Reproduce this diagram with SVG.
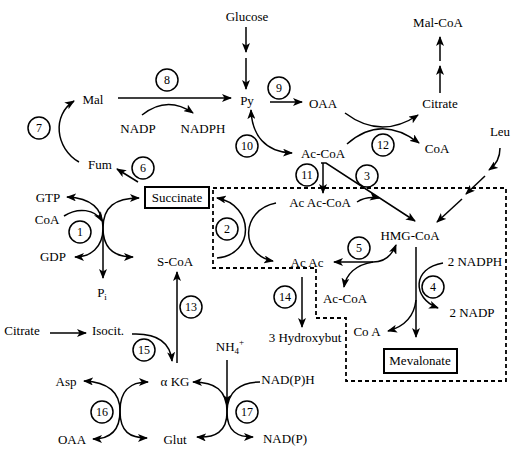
<svg xmlns="http://www.w3.org/2000/svg" width="520" height="453" viewBox="0 0 520 453" font-family="'Liberation Serif', 'DejaVu Serif', serif">
<style>
text{font-family:'Liberation Serif','DejaVu Serif',serif;font-size:13px;fill:#000;text-anchor:middle}
.n text{font-size:12px}
.n circle{fill:#fff;stroke:#000;stroke-width:1.5}
.c path{fill:none;stroke:#000;stroke-width:1.5}
.a{marker-end:url(#ah)}
.b{marker-start:url(#ah);marker-end:url(#ah)}
.box{fill:#fff;stroke:#000;stroke-width:2}
.dash{fill:none;stroke:#000;stroke-width:1.8;stroke-dasharray:4 3}
</style>
<defs>
<marker id="ah" viewBox="0 0 10 8" refX="9" refY="4" markerWidth="10" markerHeight="8" markerUnits="userSpaceOnUse" orient="auto-start-reverse"><path d="M0,0 L10,4 L0,8 L2.5,4 z" fill="#000"/></marker>
</defs>
<rect width="520" height="453" fill="#fff"/>
<path class="dash" d="M213,188 H506 V381 H346 V318 H316 V268 H213 Z"/>
<g class="c" id="connectors">
<path class="a" d="M246,27 L246,52"/>
<path class="a" d="M246,58 L246,89"/>
<path class="a" d="M118,98 L231,98"/>
<path class="a" d="M142,115 Q167,95 193,113"/>
<path class="a" d="M79,162 C55,148 52,115 74,101"/>
<path class="a" d="M138,182 L117,169"/>
<path class="a" d="M270,102 L302,102"/>
<path class="a" d="M440,93 L440,66"/>
<path class="a" d="M440,61 L440,37"/>
<path class="a" d="M345,113 Q381,140 418,115"/>
<path class="a" d="M347,144 Q381,114 419,143"/>
<path class="b" d="M251,110 C252,135 265,152 292,153"/>
<path class="a" d="M323,163 L323,193"/>
<path class="a" d="M321,163 H326 L415,221"/>
<path class="a" d="M357,202 Q366,196 379,198"/>
<path class="a" d="M500,148 Q500,162 489,170"/>
<path class="a" d="M485,176 L466,194"/>
<path class="a" d="M462,199 L437,222"/>
<path class="a" d="M276,203 C240,210 240,255 273,261"/>
<path class="a" d="M217,258 C255,255 255,205 217,198"/>
<path class="a" d="M373,262 L334,262"/>
<path class="a" d="M373,262 C385,262 392,255 396,245"/>
<path class="a" d="M373,262 C355,265 346,275 344,287"/>
<path class="a" d="M302,277 L302,327"/>
<path class="a" d="M416,247 L416,337"/>
<path class="a" d="M443,263 C412,268 412,298 438,308"/>
<path class="a" d="M416,300 C414,318 403,327 388,331"/>
<path class="a" d="M103,228 C103,208 90,198 67,197"/>
<path class="a" d="M103,228 C103,248 90,257 75,257"/>
<path class="a" d="M103,228 C103,207 115,198 139,198"/>
<path class="a" d="M103,228 C103,249 115,257 133,257"/>
<path class="a" d="M64,216 C78,207 95,209 102,221"/>
<path class="a" d="M103,232 L103,278"/>
<path class="a" d="M177,363 L177,272"/>
<path class="a" d="M50,333 L86,333"/>
<path class="a" d="M132,334 C155,333 170,340 172,361"/>
<path class="a" d="M120,411 C120,390 105,382 84,381"/>
<path class="a" d="M120,411 C120,432 108,439 93,439"/>
<path class="a" d="M120,411 C120,390 130,382 148,382"/>
<path class="a" d="M120,411 C120,432 130,438 147,438"/>
<path class="a" d="M227,412 C227,390 215,382 193,382"/>
<path class="a" d="M227,412 C227,432 215,438 197,437"/>
<path d="M227,412 C227,392 240,382 260,382"/>
<path class="a" d="M227,412 C227,432 238,437 253,437"/>
<path class="a" d="M227,360 L227,404"/>
</g>
<g id="glucose"><text x="247" y="21">Glucose</text></g>
<g id="py"><text x="247" y="105">Py</text></g>
<g id="malcoa"><text x="438" y="27">Mal-CoA</text></g>
<g id="citrate-top"><text x="440" y="108">Citrate</text></g>
<g id="oaa-top"><text x="323" y="108">OAA</text></g>
<g id="leu"><text x="500" y="136">Leu</text></g>
<g id="coa-12"><text x="437" y="153">CoA</text></g>
<g id="accoa"><text x="323" y="158">Ac-CoA</text></g>
<g id="acaccoa"><text x="320" y="207">Ac Ac-CoA</text></g>
<g id="hmgcoa"><text x="410" y="240">HMG-CoA</text></g>
<g id="acac"><text x="307" y="267">Ac Ac</text></g>
<g id="accoa-5"><text x="345" y="303">Ac-CoA</text></g>
<g id="nadph2"><text x="475" y="266">2 NADPH</text></g>
<g id="nadp2"><text x="472" y="317">2 NADP</text></g>
<g id="coa-4"><text x="367" y="336">Co A</text></g>
<g id="hydroxybut"><text x="305" y="342">3 Hydroxybut</text></g>
<g id="mevalonate"><rect class="box" x="384" y="349" width="73" height="24"/><text x="420" y="365">Mevalonate</text></g>
<g id="mal"><text x="93" y="104">Mal</text></g>
<g id="nadp"><text x="138" y="133">NADP</text></g>
<g id="nadph"><text x="203" y="133">NADPH</text></g>
<g id="fum"><text x="100" y="169">Fum</text></g>
<g id="succinate"><rect class="box" x="145" y="187" width="64" height="21"/><text x="177" y="202">Succinate</text></g>
<g id="gtp"><text x="48" y="202">GTP</text></g>
<g id="coa-1"><text x="47" y="224">CoA</text></g>
<g id="gdp"><text x="53" y="261">GDP</text></g>
<g id="pi"><text x="102" y="297">P<tspan font-size="9" dy="3">i</tspan></text></g>
<g id="scoa"><text x="175" y="266">S-CoA</text></g>
<g id="citrate-left"><text x="22" y="335">Citrate</text></g>
<g id="isocit"><text x="108" y="335">Isocit.</text></g>
<g id="akg"><text x="175" y="386">α KG</text></g>
<g id="asp"><text x="66" y="386">Asp</text></g>
<g id="oaa-bottom"><text x="72" y="444">OAA</text></g>
<g id="glut"><text x="175" y="444">Glut</text></g>
<g id="nh4"><text x="230" y="351">NH<tspan font-size="9" dy="3">4</tspan><tspan font-size="9" dy="-9">+</tspan></text></g>
<g id="nadph-17"><text x="288" y="384">NAD(P)H</text></g>
<g id="nadp-17"><text x="285" y="443">NAD(P)</text></g>
<g class="n" id="r1"><circle cx="80" cy="232" r="11"/><text x="80" y="236">1</text></g>
<g class="n" id="r2"><circle cx="227" cy="229" r="11"/><text x="227" y="233">2</text></g>
<g class="n" id="r3"><circle cx="367" cy="176" r="11"/><text x="367" y="180">3</text></g>
<g class="n" id="r4"><circle cx="433" cy="287" r="11"/><text x="433" y="291">4</text></g>
<g class="n" id="r5"><circle cx="359" cy="248" r="11"/><text x="359" y="252">5</text></g>
<g class="n" id="r6"><circle cx="143" cy="168" r="11"/><text x="143" y="172">6</text></g>
<g class="n" id="r7"><circle cx="39" cy="128" r="11"/><text x="39" y="132">7</text></g>
<g class="n" id="r8"><circle cx="167" cy="80" r="11"/><text x="167" y="84">8</text></g>
<g class="n" id="r9"><circle cx="279" cy="88" r="11"/><text x="279" y="92">9</text></g>
<g class="n" id="r10"><circle cx="247" cy="146" r="11"/><text x="247" y="150">10</text></g>
<g class="n" id="r11"><circle cx="307" cy="175" r="11"/><text x="307" y="179">11</text></g>
<g class="n" id="r12"><circle cx="383" cy="145" r="11"/><text x="383" y="149">12</text></g>
<g class="n" id="r13"><circle cx="191" cy="307" r="11"/><text x="191" y="311">13</text></g>
<g class="n" id="r14"><circle cx="285" cy="297" r="11"/><text x="285" y="301">14</text></g>
<g class="n" id="r15"><circle cx="144" cy="350" r="11"/><text x="144" y="354">15</text></g>
<g class="n" id="r16"><circle cx="102" cy="412" r="11"/><text x="102" y="416">16</text></g>
<g class="n" id="r17"><circle cx="247" cy="412" r="11"/><text x="247" y="416">17</text></g>
</svg>
